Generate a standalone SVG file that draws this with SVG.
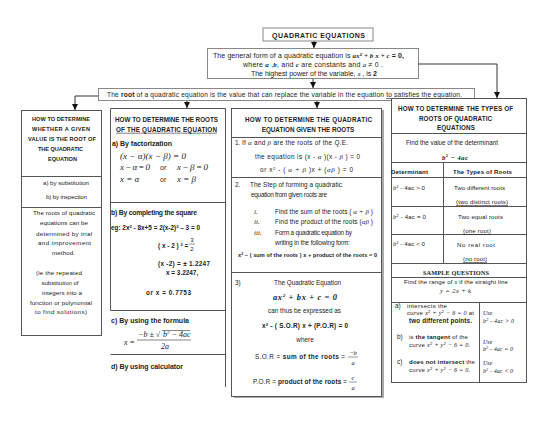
<svg xmlns="http://www.w3.org/2000/svg" width="560" height="433" viewBox="0 0 560 433">
<style>
text{font-family:"Liberation Sans",Arial,sans-serif;fill:#222;font-size:6.4px}
.b{font-weight:bold}
.m{font-family:"Liberation Serif","Times New Roman",serif;font-style:italic}
.c{text-anchor:middle}
.t{font-weight:bold;font-size:6.3px}
.box{fill:#fff;stroke:#555;stroke-width:1}
.ln{stroke:#555;stroke-width:1;fill:none}
.cn{stroke:#333;stroke-width:1;fill:none}
.sh{fill:#aaa}
.sup{font-size:4.2px}
</style>
<defs>
<marker id="ah" viewBox="0 0 10 10" refX="10" refY="5" markerWidth="6" markerHeight="6" orient="auto"><path d="M0,0L10,5L0,10z" fill="#111"/></marker>
</defs>
<rect width="560" height="433" fill="#fff"/>

<g id="title">
<rect class="box" x="263" y="28" width="110" height="13" style="stroke:#888"/>
<text class="b" x="272" y="38" textLength="93" style="font-size:7px">QUADRATIC EQUATIONS</text>
</g>

<g id="general">
<rect class="box" x="207.5" y="48.5" width="211" height="30" style="stroke:#888"/>
<text x="213" y="58.3" textLength="191" style="font-size:7px">The general  form of a quadratic equation is <tspan class="m b">ax</tspan><tspan class="b sup" dy="-2.5">2</tspan><tspan class="m b" dy="2.5"> + b x + c</tspan><tspan class="b"> = 0,</tspan></text>
<text x="243" y="67.3" textLength="140" style="font-size:7px">where <tspan class="m b">a</tspan> ,<tspan class="m b">b</tspan>, and <tspan class="m b">c</tspan>   are constants and <tspan class="m">a</tspan>  ≠  0 .</text>
<text x="251" y="76.3" textLength="126" style="font-size:7px">The highest  power  of  the variable, <tspan class="m">x</tspan> ,  is  <tspan class="b">2</tspan></text>
</g>

<g id="root">
<rect class="box" x="98.5" y="88.5" width="376" height="12" style="stroke:#888"/>
<text x="107" y="97.3" textLength="355" style="font-size:6.6px">The <tspan class="b">root</tspan> of a quadratic equation is the value that can replace the variable  in the equation <tspan text-decoration="underline">to satisfies the equation.</tspan></text>
</g>

<g id="connectors">
<path class="cn" d="M314,41V48" marker-end="url(#ah)"/>
<path class="cn" d="M313,79V88" marker-end="url(#ah)"/>
<path class="cn" d="M98,96H75V110" marker-end="url(#ah)"/>
<path class="cn" d="M187,101V108" marker-end="url(#ah)"/>
<path class="cn" d="M317,101V108" marker-end="url(#ah)"/>
<path class="cn" d="M418,64H497V98" marker-end="url(#ah)"/>
</g>

<g id="col1">
<rect class="box" x="21.5" y="110.5" width="80" height="225"/>
<line class="ln" x1="21.5" y1="176.5" x2="101.5" y2="176.5"/>
<line class="ln" x1="21.5" y1="207.5" x2="101.5" y2="207.5"/>
<text class="b" x="32" y="121" textLength="58" style="font-size:5.6px">HOW TO DETERMINE</text>
<text class="b" x="32" y="131" textLength="58" style="font-size:5.6px">WHETHER A GIVEN</text>
<text class="b" x="28" y="141" textLength="68" style="font-size:5.6px">VALUE IS  THE ROOT OF</text>
<text class="b" x="38" y="151" textLength="45" style="font-size:5.6px">THE QUADRATIC</text>
<text class="b" x="48" y="161" textLength="29" style="font-size:5.6px">EQUATION</text>
<text x="43" y="185.3" textLength="46" style="font-size:6.1px">a) by  substitution</text>
<text x="46" y="199.3" textLength="41" style="font-size:6.1px">b) by inspection</text>
<text x="33" y="215.3" textLength="62" style="font-size:6.2px">The roots of quadratic</text>
<text x="40" y="225.3" textLength="48" style="font-size:6.2px">equations can be</text>
<text x="36" y="236.3" textLength="56" style="font-size:6.2px">determined by   trial</text>
<text x="38" y="245.3" textLength="53" style="font-size:6.2px">and   improvement</text>
<text x="52" y="255.3" textLength="23" style="font-size:6.2px">method.</text>
<text x="36" y="275.3" textLength="46" style="font-size:6.2px">(ie  the repeated</text>
<text class="c" x="60" y="285.3" style="font-size:6px">substitution of</text>
<text x="42" y="295.3" textLength="40" style="font-size:6.2px">integers into a</text>
<text x="30" y="305.3" textLength="62" style="font-size:6.2px">function or polynomial</text>
<text x="35" y="314.3" textLength="52" style="font-size:6.2px">to   find solutions)</text>
</g>

<g id="col2">
<path class="ln" d="M110.5,310.5V108.5H225.5V387"/>
<line class="ln" x1="110.5" y1="202.5" x2="225.5" y2="202.5"/>
<line class="ln" x1="110.5" y1="310.5" x2="225.5" y2="310.5"/>
<line class="ln" x1="110.5" y1="354.5" x2="225.5" y2="354.5"/>
<text class="t" x="115" y="122.3" textLength="103">HOW TO DETERMINE THE ROOTS</text>
<text class="t" x="116" y="131.8" textLength="101" text-decoration="underline">OF THE QUADRATIC EQUATION</text>
<text class="b" x="112" y="145.5" textLength="60" style="font-size:7px">a)  By  factorization</text>
<text class="m" x="120" y="159" textLength="66" style="font-size:9px">(x − α)(x − β) = 0</text>
<text class="m" x="120" y="170" textLength="30" style="font-size:9px">x − α = 0</text>
<text x="160" y="170" style="font-size:7px">or</text>
<text class="m" x="177" y="170" textLength="31" style="font-size:9px">x − β = 0</text>
<text class="m" x="120" y="182" style="font-size:9px">x = α</text>
<text x="160" y="182" style="font-size:7px">or</text>
<text class="m" x="177" y="182" style="font-size:9px">x = β</text>
<text class="b" x="111" y="214.5" textLength="86" style="font-size:6.8px">b) By  completing the square</text>
<text class="b" x="111" y="229.5" textLength="89" style="font-size:6.4px">eg:  2x<tspan class="sup" dy="-2">2</tspan><tspan dy="2"> - 8x+5 = 2(x-2)</tspan><tspan class="sup" dy="-2">2</tspan><tspan dy="2"> – 3 = 0</tspan></text>
<text class="b" x="158" y="247.5">( x - 2 ) <tspan class="sup" dy="-2">2</tspan><tspan dy="2"> =</tspan></text>
<text class="c" x="192" y="241.5" style="font-size:6px">3</text>
<line x1="189" y1="244" x2="195" y2="244" stroke="#222" stroke-width="0.5"/>
<text class="c" x="192" y="251" style="font-size:6px">2</text>
<text class="b" x="158" y="265.5" textLength="52">(x -2)  =   ± 1.2247</text>
<text class="b" x="166" y="274.5">x = 3.2247,</text>
<text class="b" x="146" y="294.5" textLength="45">or    x  = 0.7753</text>
<text class="b" x="111" y="322.5" textLength="78" style="font-size:7px">c)     By  using the formula</text>
<text class="m" x="124" y="345" style="font-size:8px">x =</text>
<text class="m" x="138" y="337" style="font-size:8px">−b ± √</text>
<line x1="162" y1="330.5" x2="190" y2="330.5" stroke="#333" stroke-width="0.6"/>
<text class="m" x="163" y="337" style="font-size:8px">b<tspan dy="-3" style="font-size:5px">2</tspan><tspan dy="3"> − 4ac</tspan></text>
<line x1="137" y1="340" x2="191" y2="340" stroke="#333" stroke-width="0.6"/>
<text class="m c" x="165" y="349" style="font-size:8px">2a</text>
<text class="b" x="111" y="368.5" textLength="72" style="font-size:7px">d)     By using calculator</text>
</g>

<g id="col3">
<rect class="sh" x="234" y="110" width="150" height="288"/>
<rect class="box" x="231.5" y="108.5" width="150" height="288"/>
<line class="ln" x1="231.5" y1="137.5" x2="381.5" y2="137.5"/>
<line class="ln" x1="231.5" y1="177.5" x2="381.5" y2="177.5"/>
<line class="ln" x1="231.5" y1="272.5" x2="381.5" y2="272.5"/>
<text class="t" x="245" y="122.3" textLength="127">HOW TO DETERMINE  THE QUADRATIC</text>
<text class="t c" x="308" y="132.3">EQUATION GIVEN THE ROOTS</text>
<text x="235" y="145.3">1.</text>
<text x="242" y="145.3" textLength="106">If  <tspan class="m" style="font-size:7px">α</tspan>  and  <tspan class="m" style="font-size:7px">β</tspan>  are the roots of the Q.E.</text>
<text x="255" y="159.3" textLength="105">the equation is  (x - <tspan class="m" style="font-size:7px">α</tspan> )(x - <tspan class="m" style="font-size:7px">β</tspan> ) = 0</text>
<text x="260" y="172.3" textLength="93">or  x<tspan class="sup" dy="-2">2</tspan><tspan dy="2">  -  (  </tspan><tspan class="m" style="font-size:7px">α + β</tspan> )x +  (<tspan class="m" style="font-size:7px">αβ</tspan> ) = 0</text>
<text x="235" y="187.3">2.</text>
<text x="250" y="187.3" textLength="92">The Step  of   forming  a quadratic</text>
<text x="251" y="197.3" textLength="76">equation from given roots  are</text>
<text x="254" y="214.3" class="m" style="font-size:7px">i.</text>
<text x="275" y="214.3" textLength="98">Find the sum of the roots (  <tspan class="m" style="font-size:7px">α + β</tspan> )</text>
<text x="254" y="224.3" class="m" style="font-size:7px">ii.</text>
<text x="275" y="224.3" textLength="98">Find the product  of the roots (<tspan class="m" style="font-size:7px">αβ</tspan> )</text>
<text x="254" y="235.3" class="m" style="font-size:7px">iii.</text>
<text x="275" y="235.3" textLength="77">Form a quadratic equation by</text>
<text x="275" y="245.3" textLength="75">writing  in the following form:</text>
<text class="b" x="238" y="257" textLength="139" style="font-size:5.6px">x<tspan dy="-2" style="font-size:3.6px">2</tspan><tspan dy="2"> – ( sum of the roots ) x + product of the roots  = 0</tspan></text>
<text x="235" y="285.3">3)</text>
<text x="274" y="285.3" textLength="67">The Quadratic Equation</text>
<text class="m b" x="273" y="300" textLength="64" style="font-size:8.5px">ax<tspan dy="-3" style="font-size:5px">2</tspan><tspan dy="3">  +  bx   +  c  =  0</tspan></text>
<text x="268" y="313.3" textLength="73">can thus  be expressed as</text>
<text class="b" x="262" y="328.3" textLength="86">x<tspan class="sup" dy="-2">2</tspan><tspan dy="2">  -  ( S.O.R) x +  (P.O.R) = 0</tspan></text>
<text class="c" x="305" y="342.3">where</text>
<text x="255" y="359.3" textLength="90">S.O.R  =   <tspan class="b">sum of the roots</tspan>  =</text>
<text class="m c" x="353" y="355" style="font-size:6.5px">−b</text>
<line x1="348" y1="357" x2="358" y2="357" stroke="#333" stroke-width="0.5"/>
<text class="m c" x="353" y="365" style="font-size:6.5px">a</text>
<text x="253" y="384.3" textLength="94">P.O.R =  <tspan class="b">product of the roots</tspan>  =</text>
<text class="m c" x="353" y="380" style="font-size:6.5px">c</text>
<line x1="349" y1="382" x2="357" y2="382" stroke="#333" stroke-width="0.5"/>
<text class="m c" x="353" y="390" style="font-size:6.5px">a</text>
</g>

<g id="col4">
<rect class="box" x="391.5" y="98.5" width="135" height="284"/>
<line class="ln" x1="391.5" y1="133.5" x2="526.5" y2="133.5"/>
<line class="ln" x1="391.5" y1="162.5" x2="526.5" y2="162.5"/>
<line class="ln" x1="391.5" y1="177.5" x2="526.5" y2="177.5"/>
<line class="ln" x1="391.5" y1="206.5" x2="526.5" y2="206.5"/>
<line class="ln" x1="391.5" y1="234.5" x2="526.5" y2="234.5"/>
<line class="ln" x1="391.5" y1="263.5" x2="526.5" y2="263.5"/>
<line class="ln" x1="391.5" y1="277.5" x2="526.5" y2="277.5"/>
<line class="ln" x1="391.5" y1="302.5" x2="526.5" y2="302.5"/>
<line class="ln" x1="443.5" y1="162.5" x2="443.5" y2="263.5"/>
<line class="ln" x1="479.5" y1="302.5" x2="479.5" y2="382.5"/>
<text class="t" x="398" y="111.3" textLength="115">HOW TO DETERMINE THE TYPES  OF</text>
<text class="t" x="419" y="121.3" textLength="73">ROOTS OF QUADRATIC</text>
<text class="t" x="437" y="130.3" textLength="38">EQUATIONS</text>
<text x="406" y="145.3" textLength="92" style="font-size:6.3px">Find the value of the determinant</text>
<text class="m b" x="442" y="159.5" textLength="26" style="font-size:7px">b<tspan dy="-2.5" style="font-size:4.5px">2</tspan><tspan dy="2.5"> − 4ac</tspan></text>
<text class="b" x="391" y="174.3" textLength="37" style="font-size:6.1px">Determinant</text>
<text class="b" x="453" y="174.3" textLength="59" style="font-size:6.1px">The Types of Roots</text>
<text x="393" y="190.3" textLength="32" style="font-size:6.1px"><tspan class="m">b</tspan><tspan class="sup" dy="-2">2</tspan><tspan dy="2"> - 4ac &gt; 0</tspan></text>
<text x="454" y="190.3" textLength="51" style="font-size:6.1px">Two different roots</text>
<text x="456" y="204.3" textLength="52" style="font-size:6.1px" text-decoration="underline">(two distinct roots)</text>
<text x="393" y="219.3" textLength="33" style="font-size:6.1px"><tspan class="m">b</tspan><tspan class="sup" dy="-2">2</tspan><tspan dy="2"> - 4ac = 0</tspan></text>
<text x="458" y="219.3" textLength="45" style="font-size:6.1px">Two  equal  roots</text>
<text x="463" y="233.3" textLength="28" style="font-size:6.1px" text-decoration="underline">(one root)</text>
<text x="393" y="246.3" textLength="32" style="font-size:6.1px"><tspan class="m">b</tspan><tspan class="sup" dy="-2">2</tspan><tspan dy="2"> - 4ac &lt; 0</tspan></text>
<text x="457" y="247.3" textLength="38" style="font-size:6.1px">No   real  root</text>
<text x="463" y="261.3" textLength="24" style="font-size:6.1px" text-decoration="underline">(no root)</text>
<text class="b" x="423" y="275.3" textLength="66" style="font-family:'Liberation Serif',serif;font-size:6.3px">SAMPLE  QUESTIONS</text>
<text x="404" y="284.3" textLength="104" style="font-size:6.1px">Find the range of <tspan class="m">x</tspan> if the  straight line</text>
<text class="m" x="440" y="293.3" textLength="31" style="font-size:6.5px">y = 2x + k</text>
<text x="395" y="308.3">a)</text>
<text x="407" y="308.3" textLength="40" style="font-size:6.1px">intersects the</text>
<text x="407" y="315.3" textLength="67" style="font-size:6.1px">curve <tspan class="m">x</tspan><tspan class="sup" dy="-2">2</tspan><tspan class="m" dy="2"> + y</tspan><tspan class="sup" dy="-2">2</tspan><tspan class="m" dy="2"> − 6 = 0</tspan> at</text>
<text class="b" x="409" y="323.3" textLength="63" style="font-size:6.3px">two  different points.</text>
<text class="m" x="483" y="315.3" style="font-size:6px">Use</text>
<text class="m" x="483" y="323.3" textLength="31" style="font-size:6px">b<tspan class="sup" dy="-2">2</tspan><tspan dy="2"> - 4ac &gt; 0</tspan></text>
<text x="397" y="339.3">b)</text>
<text x="409" y="339.3" textLength="59" style="font-size:6.1px">is <tspan class="b">the tangent</tspan> of the</text>
<text x="409" y="347.3" textLength="61" style="font-size:6.1px">curve  <tspan class="m">x</tspan><tspan class="sup" dy="-2">2</tspan><tspan class="m" dy="2"> + y</tspan><tspan class="sup" dy="-2">2</tspan><tspan class="m" dy="2"> − 6 = 0.</tspan></text>
<text class="m" x="483" y="344.3" style="font-size:6px">Use</text>
<text class="m" x="483" y="351.3" textLength="30" style="font-size:6px">b<tspan class="sup" dy="-2">2</tspan><tspan dy="2"> - 4ac = 0</tspan></text>
<text x="397" y="364.3">c)</text>
<text x="409" y="364.3" textLength="66" style="font-size:6.1px"><tspan class="b">does not intersect</tspan> the</text>
<text x="409" y="372.3" textLength="61" style="font-size:6.1px">curve  <tspan class="m">x</tspan><tspan class="sup" dy="-2">2</tspan><tspan class="m" dy="2"> + y</tspan><tspan class="sup" dy="-2">2</tspan><tspan class="m" dy="2"> − 6 = 0.</tspan></text>
<text class="m" x="483" y="365.3" style="font-size:6px">Use</text>
<text class="m" x="483" y="373.3" textLength="30" style="font-size:6px">b<tspan class="sup" dy="-2">2</tspan><tspan dy="2"> - 4ac &lt; 0</tspan></text>
</g>
</svg>
